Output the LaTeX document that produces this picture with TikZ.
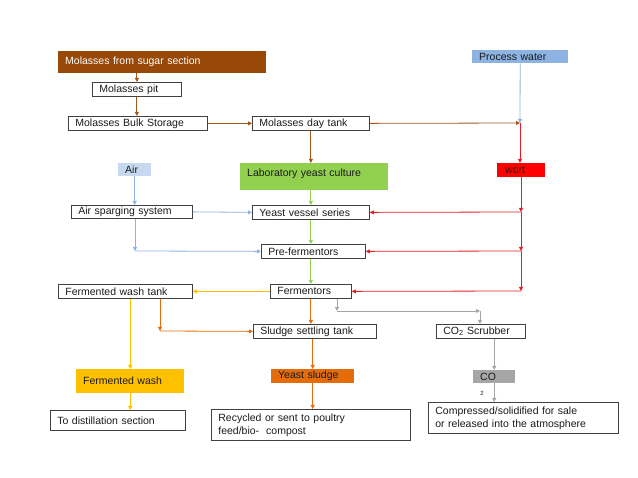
\documentclass[tikz,border=0pt]{standalone}
\usepackage{fontspec}
\setmainfont{Liberation Sans}
\usetikzlibrary{arrows.meta}
\definecolor{cBrown}{HTML}{984807}
\definecolor{cBrownL}{HTML}{A0581E}
\definecolor{cWater}{HTML}{8DB3E2}
\definecolor{cAir}{HTML}{C6D9F1}
\definecolor{cBlueL}{HTML}{8DB3E2}
\definecolor{cGreen}{HTML}{92D050}
\definecolor{cRed}{HTML}{FF0000}
\definecolor{cRedL}{HTML}{E41E26}
\definecolor{cYel}{HTML}{FFC000}
\definecolor{cOrg}{HTML}{E46C0A}
\definecolor{cGray}{HTML}{A6A6A6}
\definecolor{cBorder}{HTML}{404040}
\definecolor{cText}{HTML}{1A1A1A}
\tikzset{
  box/.style={anchor=north west, inner xsep=7pt, inner ysep=0pt, align=left,
    text=cText, font=\fontsize{10.5}{13}\selectfont},
  obox/.style={box, draw=cBorder, line width=0.75pt},
  fbox/.style={box, draw=none},
  arr/.style={line width=0.8pt, -{Triangle[length=4pt,width=4pt]}},
  brn/.style={arr, draw=cBrownL},
  blu/.style={arr, draw=cBlueL},
  grn/.style={arr, draw=cGreen},
  rd/.style={arr, draw=cRedL},
  yel/.style={arr, draw=cYel},
  org/.style={arr, draw=cOrg},
  gry/.style={arr, draw=cGray},
}
\begin{document}
\begin{tikzpicture}[x=1pt,y=-1pt]
\useasboundingbox (0,0) rectangle (638,478);
% nodes
\node[fbox, fill=cBrown, text=white, text width=194pt, minimum height=22pt] (src) at (58,51) {Molasses from sugar section};
\node[obox, text width=75pt, minimum height=14pt] (pit) at (92,82) {Molasses pit};
\node[obox, text width=125pt, minimum height=14pt] (bulk) at (68,116) {Molasses Bulk Storage};
\node[obox, text width=103pt, minimum height=14pt] (day) at (252,116) {Molasses day tank};
\node[fbox, fill=cWater, text width=82pt, minimum height=13pt] (water) at (472,50) {Process water};
\node[fbox, fill=cAir, text width=19pt, minimum height=13pt] (air) at (118,163) {Air};
\node[fbox, fill=cGreen, text width=134pt, minimum height=27pt, text depth=8pt] (lab) at (240,163) {Laboratory yeast culture};
\node[fbox, fill=cRed, text width=32pt, inner xsep=8pt, minimum height=14pt] (wort) at (497,163) {wort};
\node[obox, text width=107pt, minimum height=13pt] (spar) at (71,205) {Air sparging system};
\node[obox, text width=103pt, minimum height=14pt] (yvs) at (252,205) {Yeast vessel series};
\node[obox, text width=90pt, minimum height=14pt] (pre) at (261,244) {Pre-fermentors};
\node[obox, text width=120pt, minimum height=14pt] (fwt) at (58,284) {Fermented wash tank};
\node[obox, text width=67pt, minimum height=14pt] (ferm) at (270,284) {Fermentors};
\node[obox, text width=109pt, minimum height=14pt] (sludge) at (253,324) {Sludge settling tank};
\node[obox, text width=75pt, minimum height=14pt] (scrub) at (436,324) {CO\textsubscript{2} Scrubber};
\node[fbox, fill=cYel, text width=94pt, minimum height=24pt] (fwash) at (76,369) {Fermented wash};
\node[fbox, fill=cOrg, text width=69pt, minimum height=14pt] (ysl) at (271,369) {Yeast sludge};
\node[fbox, fill=cGray, text width=28pt, minimum height=13pt] (co) at (473,370) {CO};
\node[anchor=center, inner sep=0pt, text=cText, font=\fontsize{6}{7}\selectfont] (cosub) at (482,393) {2};
\node[obox, text width=121pt, minimum height=20pt] (dist) at (50,410) {To distillation section};
\node[obox, text width=185pt, minimum height=31pt] (recy) at (211,409) {Recycled or sent to poultry\\feed/bio-~ compost};
\node[obox, text width=176pt, minimum height=31pt] (comp) at (428,402) {Compressed/solidified for sale\\or released into the atmosphere};
% junctions
\coordinate (j1) at (520,123);
\coordinate (r1) at (521,212);
\coordinate (r2) at (521,251);
\coordinate (r3) at (521,291);
\coordinate (a2) at (135,251);
\coordinate (o1) at (160,331);
\coordinate (g1) at (337,311);
\coordinate (g2) at (480,311);
% molasses line
\draw[brn] (src.south -| pit.north) -- (pit.north);
\draw[brn] (pit.south) -- (pit.south |- bulk.north);
\draw[brn] (bulk.east) -- (day.west);
\draw[brn] (day.east) -- (j1);
\draw[blu] (water.south) -- (j1);
\draw[rd] (j1) -- (j1 |- wort.north);
\draw[brn] (day.south) -- (day.south |- lab.north);
% wort distribution
\draw[rd] (wort.south -| r1) -- (r1);
\draw[rd] (r1) -- (yvs.east);
\draw[rd] (r1) -- (r2);
\draw[rd] (r2) -- (pre.east);
\draw[rd] (r2) -- (r3);
\draw[rd] (r3) -- (ferm.east);
% yeast line
\draw[grn] (yvs.north |- lab.south) -- (yvs.north);
\draw[grn] (yvs.south) -- (yvs.south |- pre.north);
\draw[grn] (ferm.north |- pre.south) -- (ferm.north);
% air
\draw[blu] (air.south) -- (air.south |- spar.north);
\draw[blu] (spar.east) -- (yvs.west);
\draw[blu] (spar.south -| a2) -- (a2);
\draw[blu] (a2) -- (pre.west);
% products
\draw[yel] (ferm.west) -- (fwt.east);
\draw[yel] (fwash.north |- fwt.south) -- (fwash.north);
\draw[yel] (fwash.south) -- (fwash.south |- dist.north);
\draw[org] (fwt.south -| o1) -- (o1);
\draw[org] (o1) -- (sludge.west);
\draw[org] (ferm.south) -- (ferm.south |- sludge.north);
\draw[org] (ysl.north |- sludge.south) -- (ysl.north);
\draw[org] (ysl.south) -- (ysl.south |- recy.north);
\draw[gry] (ferm.south -| g1) -- (g1);
\draw[gry] (g1) -- (g2);
\draw[gry] (g2) -- (g2 |- scrub.north);
\draw[gry] (co.north |- scrub.south) -- (co.north);
\draw[gry] (co.south) -- (co.south |- comp.north);
\end{tikzpicture}
\end{document}
